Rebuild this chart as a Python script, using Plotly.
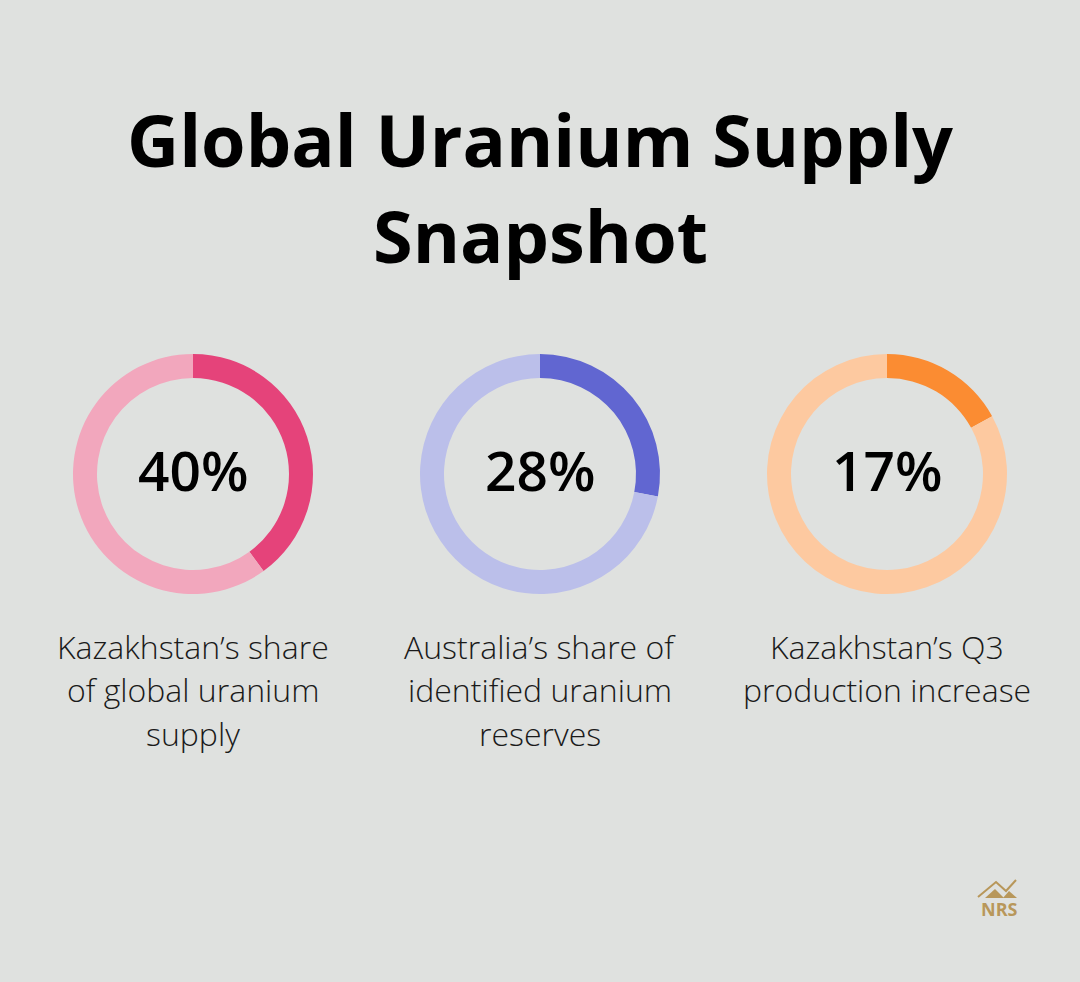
import plotly.graph_objects as go

title_lines = ["Global Uranium Supply", "Snapshot"]
values = [40, 28, 17]
value_labels = ["40%", "28%", "17%"]
descriptions = [
    ["Kazakhstan’s share", "of global uranium", "supply"],
    ["Australia’s share of", "identified uranium", "reserves"],
    ["Kazakhstan’s Q3", "production increase"],
]
dark_colors = ["#E5437A", "#6166D1", "#FB8C32"]
light_colors = ["#F2A7BD", "#BBBFEA", "#FDC9A0"]

W, H = 1080, 982
BG = "#DFE1DF"
centers_x = [193, 540, 887]
center_y = 474
R = 120

fig = go.Figure()
for i, v in enumerate(values):
    cx = centers_x[i]
    fig.add_trace(go.Pie(
        values=[v, 100 - v],
        labels=["a", "b"],
        sort=False,
        direction="clockwise",
        rotation=0,
        hole=0.8,
        marker=dict(colors=[dark_colors[i], light_colors[i]], line=dict(width=0)),
        textinfo="none",
        hoverinfo="skip",
        showlegend=False,
        domain=dict(x=[(cx - R) / W, (cx + R) / W],
                    y=[(H - center_y - R) / H, (H - center_y + R) / H]),
    ))
    fig.add_annotation(x=cx / W, y=1 - (center_y - 5) / H, xref="paper", yref="paper",
                       text=value_labels[i], showarrow=False,
                       font=dict(family="Open Sans", size=55, color="#000000", weight=600),
                       xanchor="center", yanchor="middle")
    for j, line in enumerate(descriptions[i]):
        fig.add_annotation(x=cx / W, y=1 - (646 + 43.5 * j) / H, xref="paper", yref="paper",
                           text=line, showarrow=False,
                           font=dict(family="Open Sans", size=32, color="#1a1a1a", weight=300),
                           align="center", xanchor="center", yanchor="middle")

for j, line in enumerate(title_lines):
    fig.add_annotation(x=0.5, y=1 - (139 + 96 * j) / H, xref="paper", yref="paper",
                       text="<b>" + line + "</b>", showarrow=False,
                       font=dict(family="Open Sans", size=72, color="#000000"),
                       align="center", xanchor="center", yanchor="middle")

# NRS logo
gold = "#B8975A"
fig.add_shape(type="path", xref="paper", yref="paper",
              path=f"M {978/W} {1-897/H} L {996/W} {1-882/H} L {1006/W} {1-891/H} L {1016/W} {1-880/H}",
              line=dict(color=gold, width=2))
fig.add_shape(type="path", xref="paper", yref="paper",
              path=f"M {985/W} {1-898/H} L {995/W} {1-889/H} L {1004/W} {1-898/H} Z",
              fillcolor=gold, line=dict(width=0))
fig.add_shape(type="path", xref="paper", yref="paper",
              path=f"M {1003/W} {1-898/H} L {1009/W} {1-891/H} L {1017/W} {1-898/H} Z",
              fillcolor=gold, line=dict(width=0))
fig.add_annotation(x=999 / W, y=1 - 909 / H, xref="paper", yref="paper",
                   text="<b>NRS</b>", showarrow=False,
                   font=dict(family="Open Sans", size=18, color=gold),
                   xanchor="center", yanchor="middle")

fig.update_layout(width=W, height=H, paper_bgcolor=BG, plot_bgcolor=BG,
                  margin=dict(l=0, r=0, t=0, b=0))
fig.write_html("out.html", config={"displayModeBar": False},
               post_script="document.body.style.margin='0';document.body.style.overflow='hidden';")
